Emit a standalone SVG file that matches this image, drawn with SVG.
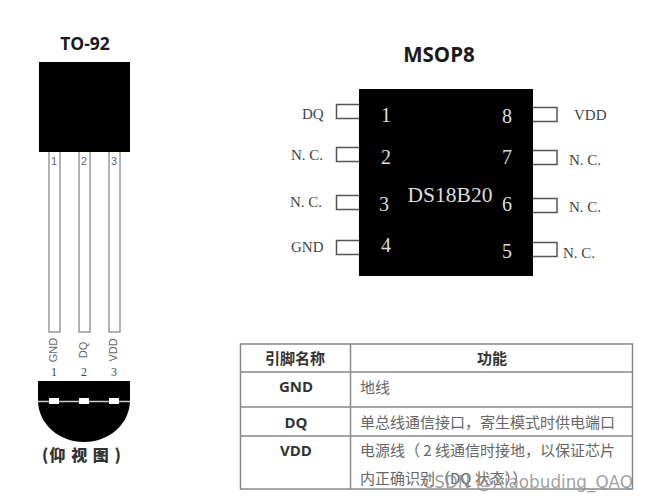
<svg xmlns="http://www.w3.org/2000/svg" width="649" height="500" viewBox="0 0 649 500">
<style>
.h{font-family:"Open Sans","Noto Sans",sans-serif;font-weight:700;fill:#1a1a1a}
.s{font-family:"Liberation Serif",serif;fill:#444}
.w{font-family:"Liberation Serif",serif;fill:#ddd}
.p{fill:#fff;stroke:#555;stroke-width:1.5}
.l{fill:#fff;stroke:#999;stroke-width:1.5}
.n{font-family:"Liberation Sans",sans-serif;fill:#666}
.t{font-family:"Noto Sans CJK SC",sans-serif;font-size:15px;fill:#666}
.tb{font-family:"Open Sans","Noto Sans CJK SC",sans-serif;font-size:15px;font-weight:700;fill:#333;text-anchor:middle}
.g{fill:none;stroke:#888;stroke-width:1.5}
</style>
<rect width="649" height="500" fill="#fff"/>
<g id="to92">
<text class="h" x="85" y="50" font-size="17.500" text-anchor="middle">TO-92</text>
<rect x="49" y="150" width="11" height="182" class="l"/>
<rect x="79" y="150" width="11" height="182" class="l"/>
<rect x="109" y="150" width="11" height="182" class="l"/>
<rect x="39" y="62" width="91" height="90" fill="#000"/>
<g class="n" font-size="11" text-anchor="middle">
<text x="54" y="165">1</text><text x="84" y="165">2</text><text x="114" y="165">3</text>
<text transform="translate(57,350) rotate(-90)">GND</text>
<text transform="translate(87,350) rotate(-90)">DQ</text>
<text transform="translate(117,350) rotate(-90)">VDD</text>
</g>
<g class="s" font-size="12" text-anchor="middle">
<text x="54" y="376">1</text><text x="84" y="376">2</text><text x="114" y="376">3</text>
</g>
</g>
<g id="bottom-view">
<path d="M38 381H130V400C130 424 109 442 84 442C59 442 38 424 38 400Z" fill="#000"/>
<path d="M38 401.500H130" stroke="#ccc" stroke-width="1.500"/>
<rect x="49" y="398" width="10" height="6" fill="#fff"/>
<rect x="79" y="398" width="10" height="6" fill="#fff"/>
<rect x="109" y="398" width="10" height="6" fill="#fff"/>
<text x="82" y="461" font-family="Noto Sans CJK SC,sans-serif" font-size="16" font-weight="900" fill="#333" text-anchor="middle" letter-spacing="1">(仰 视 图 )</text>
</g>
<g id="msop8">
<text class="h" x="439" y="62" font-size="20.500" text-anchor="middle">MSOP8</text>
<rect x="336.500" y="104.500" width="24" height="14" class="p"/>
<rect x="336.500" y="147.500" width="24" height="14" class="p"/>
<rect x="336.500" y="195.500" width="24" height="14" class="p"/>
<rect x="336.500" y="240.500" width="24" height="14" class="p"/>
<rect x="532" y="107.500" width="25" height="14" class="p"/>
<rect x="532" y="150.500" width="25" height="14" class="p"/>
<rect x="532" y="198.500" width="25" height="14" class="p"/>
<rect x="532" y="242.500" width="25" height="14" class="p"/>
<rect x="359" y="89" width="174" height="187" fill="#000"/>
<g class="w" font-size="20" text-anchor="middle">
<text x="386" y="122">1</text><text x="386" y="164">2</text><text x="384" y="211">3</text><text x="386" y="252">4</text>
<text x="507" y="123">8</text><text x="507" y="164">7</text><text x="507" y="211">6</text><text x="507" y="258">5</text>
<text x="450" y="202" font-size="21.500">DS18B20</text>
</g>
<g class="s" font-size="15">
<text x="302" y="119">DQ</text><text x="291" y="160">N. C.</text><text x="290" y="207">N. C.</text><text x="291" y="252">GND</text>
<text x="574" y="120">VDD</text><text x="569" y="165">N. C.</text><text x="569" y="212">N. C.</text><text x="563" y="258">N. C.</text>
</g>
</g>
<g id="pin-table">
<rect x="240.500" y="344" width="392" height="145" class="g"/>
<path d="M240 372H632M240 407H632M240 436H632M350.500 344V489" class="g"/>
<text class="tb" x="295" y="364">引脚名称</text>
<text class="tb" x="492" y="364">功能</text>
<text class="tb" x="296" y="392">GND</text>
<text class="tb" x="296" y="428">DQ</text>
<text class="tb" x="296" y="456">VDD</text>
<text class="t" x="360" y="393">地线</text>
<text class="t" x="360" y="428">单总线通信接口，寄生模式时供电端口</text>
<text class="t" x="360" y="456">电源线（ 2 线通信时接地，以保证芯片</text>
<text class="t" x="360" y="484">内正确识别（DQ 状态））</text>
</g>
<text id="watermark" x="633" y="488" font-family="DejaVu Sans,sans-serif" font-size="16.800" fill="#888" fill-opacity=".8" text-anchor="end">CSDN @Xiaobuding_QAQ</text>
</svg>
